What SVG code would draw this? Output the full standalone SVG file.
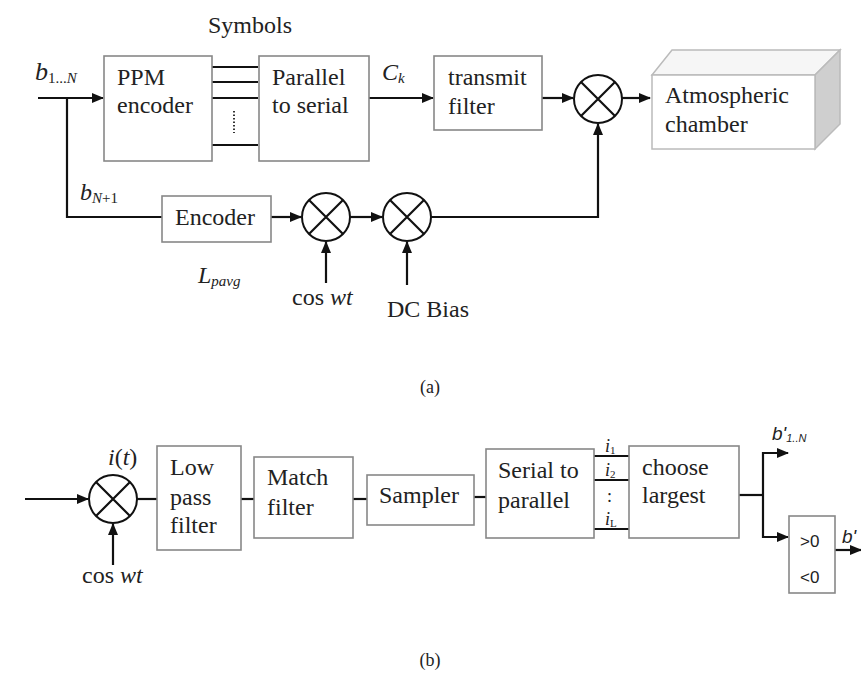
<svg xmlns="http://www.w3.org/2000/svg" width="861" height="692" viewBox="0 0 861 692">
<defs>
<marker id="ah" markerUnits="userSpaceOnUse" markerWidth="12" markerHeight="10" refX="11" refY="5" orient="auto">
<path d="M0,0 L12,5 L0,10 Z" fill="#111"/>
</marker>
<style>
.box{fill:#fff;stroke:#888;stroke-width:1.6}
.c{fill:none;stroke:#111;stroke-width:2.2}
.a{fill:none;stroke:#111;stroke-width:2.2;marker-end:url(#ah)}
.mix{fill:#fff;stroke:#111;stroke-width:2}
.t{font-family:'Liberation Serif','Times New Roman',serif;font-size:24px;fill:#222}
.s{font-family:'Liberation Serif','Times New Roman',serif;font-size:15px;fill:#222}
.i{font-style:italic}
.ar{font-family:'Liberation Sans',Arial,sans-serif;font-size:17px;fill:#222}
</style>
</defs>
<rect width="861" height="692" fill="#fff"/>

<g id="connectors">
<line class="a" x1="38" y1="98" x2="103" y2="98"/>
<path class="c" d="M67,98 V217 H162"/>
<line class="c" x1="212" y1="67" x2="258" y2="67"/>
<line class="c" x1="212" y1="82" x2="258" y2="82"/>
<line class="c" x1="212" y1="98" x2="258" y2="98"/>
<line class="c" x1="212" y1="145" x2="258" y2="145"/>
<line x1="234" y1="111" x2="234" y2="133" stroke="#333" stroke-width="2" stroke-dasharray="1.5,2"/>
<line class="a" x1="369" y1="98" x2="433" y2="98"/>
<line class="a" x1="542" y1="98" x2="573" y2="98"/>
<line class="a" x1="622" y1="98" x2="650" y2="98"/>
<line class="a" x1="271" y1="217" x2="301" y2="217"/>
<line class="a" x1="350" y1="217" x2="382" y2="217"/>
<path class="a" d="M431,217 H598 V124"/>
<line class="a" x1="326" y1="283" x2="326" y2="242"/>
<line class="a" x1="407" y1="285" x2="407" y2="242"/>

<line class="a" x1="25" y1="499" x2="88" y2="499"/>
<line class="a" x1="113" y1="565" x2="113" y2="524"/>
<line class="c" x1="137" y1="499" x2="157" y2="499"/>
<line class="c" x1="241" y1="499" x2="254" y2="499"/>
<line class="c" x1="353" y1="499" x2="367" y2="499"/>
<line class="c" x1="474" y1="497" x2="486" y2="497"/>
<line class="c" x1="594" y1="456" x2="629" y2="456"/>
<line class="c" x1="594" y1="480" x2="629" y2="480"/>
<line class="c" x1="594" y1="529" x2="629" y2="529"/>
<line class="c" x1="739" y1="495" x2="763" y2="495"/>
<path class="a" d="M763,495 V453 H788"/>
<path class="a" d="M763,495 V537 H788"/>
<line class="a" x1="835" y1="550" x2="861" y2="550"/>
</g>

<text class="t" x="208" y="33">Symbols</text>
<text class="t" x="35" y="80" style="font-size:26px"><tspan class="i">b</tspan><tspan class="s" dy="3">1...<tspan class="i">N</tspan></tspan></text>
<text class="t" x="382" y="80"><tspan class="i">C</tspan><tspan class="s i" dy="3">k</tspan></text>
<text class="t" x="80" y="200"><tspan class="i">b</tspan><tspan class="s" dy="3"><tspan class="i">N</tspan>+1</tspan></text>
<text class="t" x="198" y="283"><tspan class="i">L</tspan><tspan class="s i" dy="3">pavg</tspan></text>
<text class="t" x="292" y="305">cos <tspan class="i">wt</tspan></text>
<text class="t" x="387" y="317">DC Bias</text>
<text class="t" x="430" y="393" text-anchor="middle" style="font-size:18px">(a)</text>

<g id="ppm">
<rect class="box" x="104" y="56" width="108" height="105"/>
<text class="t" x="117" y="85">PPM</text>
<text class="t" x="117" y="113">encoder</text>
</g>
<g id="p2s">
<rect class="box" x="259" y="56" width="110" height="105"/>
<text class="t" x="272" y="85">Parallel</text>
<text class="t" x="272" y="113">to serial</text>
</g>
<g id="txfilter">
<rect class="box" x="434" y="56" width="108" height="74"/>
<text class="t" x="448" y="85">transmit</text>
<text class="t" x="448" y="114">filter</text>
</g>
<g id="mix1">
<circle class="mix" cx="598" cy="99" r="24"/>
<path class="c" d="M581,82 L615,116 M615,82 L581,116"/>
</g>
<g id="chamber">
<polygon points="652,75 672,50 840,50 815,75" fill="#f6f6f6" stroke="#bbb" stroke-width="1.5"/>
<polygon points="815,75 840,50 840,124 815,149" fill="#cfcfcf" stroke="#bbb" stroke-width="1.5"/>
<rect x="652" y="75" width="163" height="74" fill="#fff" stroke="#bbb" stroke-width="1.5"/>
<text class="t" x="665" y="103">Atmospheric</text>
<text class="t" x="665" y="132">chamber</text>
</g>
<g id="encoder">
<rect class="box" x="162" y="196" width="109" height="46"/>
<text class="t" x="175" y="225">Encoder</text>
</g>
<g id="mix2">
<circle class="mix" cx="326" cy="217" r="24"/>
<path class="c" d="M309,200 L343,234 M343,200 L309,234"/>
</g>
<g id="mix3">
<circle class="mix" cx="407" cy="217" r="24"/>
<path class="c" d="M390,200 L424,234 M424,200 L390,234"/>
</g>

<text class="t" x="108" y="465"><tspan class="i">i</tspan>(<tspan class="i">t</tspan>)</text>
<text class="t" x="82" y="583">cos <tspan class="i">wt</tspan></text>
<g id="mix4">
<circle class="mix" cx="113" cy="499" r="24"/>
<path class="c" d="M96,482 L130,516 M130,482 L96,516"/>
</g>
<g id="lpf">
<rect class="box" x="157" y="446" width="84" height="104"/>
<text class="t" x="170" y="475">Low</text>
<text class="t" x="170" y="505">pass</text>
<text class="t" x="170" y="533">filter</text>
</g>
<g id="match">
<rect class="box" x="254" y="457" width="99" height="81"/>
<text class="t" x="267" y="485">Match</text>
<text class="t" x="267" y="515">filter</text>
</g>
<g id="sampler">
<rect class="box" x="367" y="475" width="107" height="50"/>
<text class="t" x="379" y="503">Sampler</text>
</g>
<g id="s2p">
<rect class="box" x="486" y="449" width="108" height="89"/>
<text class="t" x="498" y="478">Serial to</text>
<text class="t" x="498" y="508">parallel</text>
</g>
<text class="s i" x="605" y="452" style="font-size:18px">i<tspan style="font-size:11px;font-style:normal" dy="2">1</tspan></text>
<text class="s i" x="605" y="476" style="font-size:18px">i<tspan style="font-size:11px;font-style:normal" dy="2">2</tspan></text>
<text class="s" x="607" y="502" style="font-size:18px">:</text>
<text class="s i" x="605" y="525" style="font-size:18px">i<tspan style="font-size:11px;font-style:normal" dy="2">L</tspan></text>
<g id="choose">
<rect class="box" x="629" y="446" width="110" height="92"/>
<text class="t" x="642" y="475">choose</text>
<text class="t" x="642" y="503">largest</text>
</g>
<text class="ar" x="772" y="440" style="font-size:19px"><tspan class="i">b'</tspan><tspan class="i" style="font-size:11px" dy="2">1..N</tspan></text>
<g id="threshold">
<rect class="box" x="789" y="516" width="46" height="77"/>
<text class="ar" x="800" y="547">&gt;0</text>
<text class="ar" x="800" y="583">&lt;0</text>
</g>
<text class="ar i" x="842" y="543" style="font-size:19px">b'</text>
<text class="t" x="430" y="666" text-anchor="middle" style="font-size:18px">(b)</text>
</svg>
